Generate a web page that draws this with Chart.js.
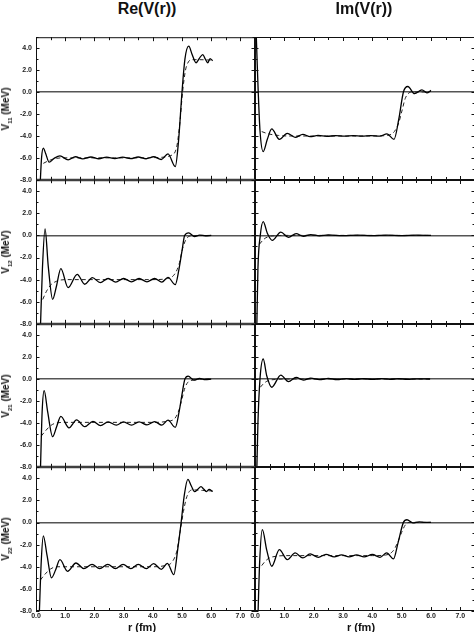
<!DOCTYPE html>
<html>
<head>
<meta charset="utf-8">
<script src="https://cdn.jsdelivr.net/npm/chart.js@4.4.0/dist/chart.umd.min.js"></script>
<style>
  html, body { margin: 0; padding: 0; background: #fff; overflow: hidden; }
  body { width: 474px; height: 632px; position: relative; font-family: "Liberation Sans", Arial, sans-serif; color: #111; }
  canvas { position: absolute; }
  .title { position: absolute; top: 0; font-weight: bold; font-size: 16px; line-height: 18px; transform: translateX(-50%); white-space: nowrap; }
  .ylab { position: absolute; font-weight: bold; font-size: 10px; line-height: 10px; white-space: nowrap; transform: translate(-50%, -50%) rotate(-90deg); }
  .ylab sub { font-size: 6px; }
  .xlab { position: absolute; top: 621px; font-weight: bold; font-size: 11px; line-height: 12px; transform: translateX(-50%); white-space: nowrap; }
</style>
</head>
<body>
<script>
// ------- data: [r (fm), V (MeV)] -------
// solid = full potential, dashed = smooth one. Rows V11, V12, V21, V22; Re left, Im right.
const re11Solid = [[0.14,-8.5],[0.19,-6.0],[0.25,-5.12],[0.33,-5.6],[0.45,-6.39],[0.62,-6.05],[0.82,-5.82],[1.1,-6.18],[1.35,-5.9],[1.6,-6.1],[1.88,-5.92],[2.15,-6.08],[2.42,-5.93],[2.7,-6.07],[2.97,-5.93],[3.24,-6.07],[3.5,-5.92],[3.77,-6.08],[4.03,-5.9],[4.29,-6.15],[4.52,-5.64],[4.77,-6.79],[4.88,-4.5],[5.0,0],[5.1,3.0],[5.23,4.18],[5.35,3.4],[5.48,2.67],[5.6,3.1],[5.71,3.42],[5.8,3.0],[5.88,2.67],[5.96,3.05],[6.05,2.85]];
const re11Dash  = [[0.25,-6.5],[0.4,-6.3],[0.6,-6.1],[0.9,-6.0],[1.5,-6.0],[2.5,-6.0],[3.5,-6.0],[4.3,-5.95],[4.6,-5.8],[4.8,-5.2],[4.92,-3.0],[5.02,0],[5.12,2.0],[5.22,2.75],[5.32,2.95],[5.6,2.95],[6.05,2.9]];
const im11Solid = [[0.02,7.0],[0.07,3.0],[0.11,0],[0.17,-3.5],[0.28,-5.42],[0.42,-4.3],[0.57,-3.36],[0.83,-4.3],[1.1,-3.76],[1.37,-4.12],[1.63,-3.85],[1.88,-4.06],[2.15,-3.95],[2.45,-4.03],[2.75,-3.97],[3.05,-4.02],[3.35,-3.97],[3.65,-4.02],[3.95,-3.97],[4.25,-4.02],[4.5,-3.8],[4.74,-4.3],[4.9,-2.5],[5.06,0],[5.21,0.5],[5.44,-0.15],[5.69,0.2],[5.86,-0.08],[6.0,0.15]];
const im11Dash  = [[0.23,-3.6],[0.45,-3.8],[0.8,-3.95],[1.2,-4.0],[2.0,-4.0],[3.0,-4.0],[4.0,-4.0],[4.5,-3.95],[4.75,-3.6],[4.9,-2.8],[5.02,-1.6],[5.12,-0.6],[5.22,-0.15],[5.35,0],[5.7,0],[6.0,0.05]];

const re12Solid = [[0.15,-8.5],[0.22,-3.0],[0.31,0.6],[0.42,-2.8],[0.57,-5.78],[0.7,-4.6],[0.85,-3.0],[1.1,-4.72],[1.41,-3.52],[1.67,-4.42],[1.93,-3.82],[2.2,-4.27],[2.47,-3.9],[2.73,-4.22],[3.0,-3.9],[3.27,-4.2],[3.53,-3.9],[3.8,-4.2],[4.06,-3.9],[4.31,-4.22],[4.52,-3.8],[4.77,-4.45],[4.9,-3.0],[5.0,-1.4],[5.09,0],[5.23,0.24],[5.43,-0.1],[5.6,0.03],[5.8,-0.03],[6.0,0]];
const re12Dash  = [[0.23,-5.8],[0.35,-5.1],[0.5,-4.5],[0.7,-4.15],[1.0,-4.0],[2.0,-4.0],[3.0,-4.0],[4.0,-4.0],[4.5,-3.9],[4.75,-3.5],[4.9,-2.6],[5.02,-1.2],[5.15,-0.3],[5.3,-0.05],[5.6,0],[6.0,0]];
const im12Solid = [[0.06,-8.5],[0.1,-3.0],[0.18,0],[0.28,1.25],[0.42,0.2],[0.59,-0.45],[0.88,0.3],[1.14,-0.18],[1.4,0.15],[1.65,-0.08],[1.9,0.07],[2.2,-0.04],[2.5,0.04],[3.0,-0.02],[3.5,0.02],[4.0,-0.02],[4.5,0.02],[5.0,-0.02],[5.5,0.02],[6.0,0]];
const im12Dash  = [[0.15,-0.8],[0.3,-0.35],[0.45,-0.12],[0.7,-0.03],[1.2,0],[6.0,0]];

const re21Solid = [[0.15,-8.5],[0.21,-3.0],[0.28,-1.06],[0.4,-3.0],[0.57,-5.25],[0.7,-4.4],[0.85,-3.4],[1.13,-4.45],[1.39,-3.73],[1.67,-4.34],[1.95,-3.85],[2.21,-4.25],[2.47,-3.9],[2.75,-4.2],[3.0,-3.9],[3.27,-4.2],[3.53,-3.9],[3.8,-4.18],[4.06,-3.88],[4.31,-4.2],[4.52,-3.75],[4.77,-4.4],[4.9,-3.0],[5.0,-1.4],[5.1,0],[5.21,0.27],[5.41,-0.1],[5.6,0.05],[5.8,-0.05],[6.0,0]];
const re21Dash  = [[0.18,-5.2],[0.3,-4.8],[0.5,-4.25],[0.7,-4.0],[1.0,-3.95],[2.0,-3.95],[3.0,-3.95],[4.0,-3.95],[4.5,-3.85],[4.75,-3.6],[4.9,-2.8],[5.0,-1.8],[5.1,-0.8],[5.2,-0.3],[5.4,-0.08],[5.6,0],[6.0,0]];
const im21Solid = [[0.06,-8.5],[0.1,-4.0],[0.17,0],[0.28,1.82],[0.4,0.3],[0.57,-0.75],[0.88,0.36],[1.14,-0.24],[1.4,0.15],[1.65,-0.1],[1.9,0.08],[2.2,-0.06],[2.5,0.05],[2.8,-0.05],[3.1,0.04],[3.4,-0.04],[3.7,0.04],[4.0,-0.04],[4.3,0.04],[4.6,-0.03],[4.9,0.03],[5.2,-0.03],[5.5,0.02],[5.97,0]];
const im21Dash  = [[0.18,-0.75],[0.3,-0.4],[0.45,-0.15],[0.7,-0.04],[1.2,0],[6.0,0]];

const re22Solid = [[0.11,-8.5],[0.18,-3.5],[0.25,-1.2],[0.38,-3.0],[0.53,-5.0],[0.67,-4.3],[0.82,-3.36],[1.08,-4.41],[1.37,-3.66],[1.64,-4.17],[1.92,-3.78],[2.18,-4.17],[2.46,-3.78],[2.72,-4.17],[2.98,-3.78],[3.25,-4.17],[3.5,-3.78],[3.78,-4.17],[4.03,-3.72],[4.29,-4.23],[4.5,-3.69],[4.72,-4.71],[4.85,-2.5],[4.97,0],[5.08,2.5],[5.2,3.9],[5.32,3.3],[5.43,2.8],[5.54,3.0],[5.65,3.24],[5.75,3.0],[5.84,2.8],[5.93,3.0],[6.05,2.8]];
const re22Dash  = [[0.15,-5.2],[0.3,-4.7],[0.5,-4.2],[0.7,-4.0],[1.0,-4.0],[2.0,-4.0],[3.0,-4.0],[4.0,-4.0],[4.4,-3.9],[4.65,-3.6],[4.82,-2.6],[4.95,-0.6],[5.05,1.0],[5.15,2.2],[5.25,2.8],[5.35,2.95],[5.7,2.9],[6.05,2.85]];
const im22Solid = [[0.1,-8.5],[0.16,-3.5],[0.25,-0.66],[0.4,-2.5],[0.57,-3.96],[0.83,-2.46],[1.1,-3.36],[1.37,-2.76],[1.63,-3.21],[1.88,-2.85],[2.16,-3.15],[2.42,-2.88],[2.7,-3.12],[2.95,-2.94],[3.21,-3.12],[3.46,-2.94],[3.72,-3.12],[4.0,-2.9],[4.26,-3.15],[4.49,-2.76],[4.72,-3.3],[4.88,-1.8],[5.06,0],[5.18,0.24],[5.38,-0.05],[5.6,0.05],[5.8,0],[6.0,0]];
const im22Dash  = [[0.23,-3.9],[0.35,-3.5],[0.5,-3.2],[0.75,-3.05],[1.0,-3.0],[2.0,-3.0],[3.0,-3.0],[4.0,-3.0],[4.45,-2.95],[4.7,-2.6],[4.85,-1.9],[5.0,-0.9],[5.12,-0.25],[5.25,0],[5.6,0],[6.0,0]];

// axes
const X_LABELS = [0, 1, 2, 3, 4, 5, 6, 7];       // labelled r ticks (minor every 0.5)
const Y_LABELS = [-8, -6, -4, -2, 0, 2, 4];      // labelled V ticks (minor every 1)
const SUBS = ['11', '12', '21', '22'];
const COL_TITLES = ['Re(V(r))', 'Im(V(r))'];

const ROWS = [
  [re11Solid, re11Dash, im11Solid, im11Dash],
  [re12Solid, re12Dash, im12Solid, im12Dash],
  [re21Solid, re21Dash, im21Solid, im21Dash],
  [re22Solid, re22Dash, im22Solid, im22Dash],
];

// ------- layout (pixels of the picture) -------
const ROW_TOP = [37, 180, 324, 467, 611];
const PAD = 8;

// ------- helpers -------
const el = (tag, attrs = {}, html = '') => {
  const e = document.createElement(tag);
  for (const [k, v] of Object.entries(attrs)) {
    if (k === 'class') e.className = v;
    else if (k === 'style') e.style.cssText = v;
    else e.setAttribute(k, v);
  }
  if (html) e.innerHTML = html;
  return e;
};
const near = (v, list) => list.some(t => Math.abs(t - v) < 1e-6);
const pts = arr => arr.map(([x, y]) => ({ x, y }));
const tickFont = { family: '"Liberation Sans", Arial, sans-serif', size: 7, weight: 'bold' };

// frame + inward ticks on all four sides
const frameTicks = {
  id: 'frameTicks',
  afterDraw(chart) {
    const { ctx, chartArea: a, scales: { x, y } } = chart;
    ctx.save();
    ctx.strokeStyle = '#111';
    ctx.lineWidth = 1;
    ctx.strokeRect(a.left + 0.5, a.top + 0.5, a.right - a.left - 1, a.bottom - a.top - 1);
    ctx.beginPath();
    x.ticks.forEach(t => {
      const px = Math.round(x.getPixelForValue(t.value)) + 0.5;
      const len = near(t.value, X_LABELS) ? 4 : 3;
      ctx.moveTo(px, a.bottom); ctx.lineTo(px, a.bottom - len);
      ctx.moveTo(px, a.top); ctx.lineTo(px, a.top + len);
    });
    y.ticks.forEach(t => {
      const py = Math.round(y.getPixelForValue(t.value)) + 0.5;
      const len = near(t.value, Y_LABELS) ? 3.5 : 2.5;
      ctx.moveTo(a.left, py); ctx.lineTo(a.left + len, py);
      ctx.moveTo(a.right, py); ctx.lineTo(a.right - len, py);
    });
    ctx.stroke();
    ctx.restore();
  }
};

function makePanel(row, col, solid, dashed) {
  const top = ROW_TOP[row];
  const h = ROW_TOP[row + 1] - top;
  const last = row === ROWS.length - 1;
  const left = col === 0 ? 0 : 247;
  const w = col === 0 ? 264 : 240;
  const xh = last ? 14 : 0;
  const hh = PAD + h + (last ? 0 : PAD) + xh;

  const cv = el('canvas', { width: w, height: hh, style: `left:${left}px;top:${top - PAD}px;width:${w}px;height:${hh}px;` });
  document.body.appendChild(cv);

  return new Chart(cv.getContext('2d'), {
    type: 'line',
    data: {
      datasets: [
        { data: pts(solid), borderColor: '#000', borderWidth: 1.3, pointRadius: 0, cubicInterpolationMode: 'monotone', fill: false },
        { data: pts(dashed), borderColor: '#222', borderWidth: 1, borderDash: [4, 3], pointRadius: 0, cubicInterpolationMode: 'monotone', fill: false },
      ]
    },
    options: {
      responsive: false,
      animation: false,
      events: [],
      layout: { padding: { top: PAD, bottom: last ? 0 : PAD, left: col === 0 ? 0 : 8, right: col === 0 ? 9 : 12 } },
      plugins: { legend: { display: false }, tooltip: { enabled: false } },
      scales: {
        x: {
          type: 'linear', min: 0, max: 7.5,
          grid: { display: false, drawTicks: false },
          border: { display: false },
          afterFit: s => { s.height = xh; },
          ticks: {
            display: last, stepSize: 0.5, includeBounds: false, autoSkip: false,
            maxRotation: 0, minRotation: 0, padding: 1, color: '#222', font: tickFont,
            callback: v => near(v, X_LABELS) ? Number(v).toFixed(1) : ''
          }
        },
        y: {
          type: 'linear', min: -8, max: 5,
          grid: {
            drawTicks: false,
            color: c => (c.tick && Math.abs(c.tick.value) < 1e-6) ? '#555' : 'rgba(0,0,0,0)',
            lineWidth: 1.6
          },
          border: { display: false },
          afterFit: s => { s.width = col === 0 ? 36 : 0; },
          ticks: {
            display: col === 0, stepSize: 1, autoSkip: false, padding: 4, color: '#222', font: tickFont,
            callback: v => near(v, Y_LABELS) ? Number(v).toFixed(1) : ''
          }
        }
      }
    },
    plugins: [frameTicks]
  });
}

// ------- boot -------
function init() {
  ROWS.forEach((r, i) => {
    makePanel(i, 0, r[0], r[1]);
    makePanel(i, 1, r[2], r[3]);
    const mid = (ROW_TOP[i] + ROW_TOP[i + 1]) / 2;
    document.body.appendChild(el('div', { class: 'ylab', style: `left:8px;top:${mid}px;` }, `V<sub>${SUBS[i]}</sub> (MeV)`));
  });
  document.body.appendChild(el('div', { class: 'title', style: 'left:147px;' }, COL_TITLES[0]));
  document.body.appendChild(el('div', { class: 'title', style: 'left:364px;' }, COL_TITLES[1]));
  document.body.appendChild(el('div', { class: 'xlab', style: 'left:142px;' }, 'r (fm)'));
  document.body.appendChild(el('div', { class: 'xlab', style: 'left:361px;' }, 'r (fm)'));
}

init();
</script>
</body>
</html>
